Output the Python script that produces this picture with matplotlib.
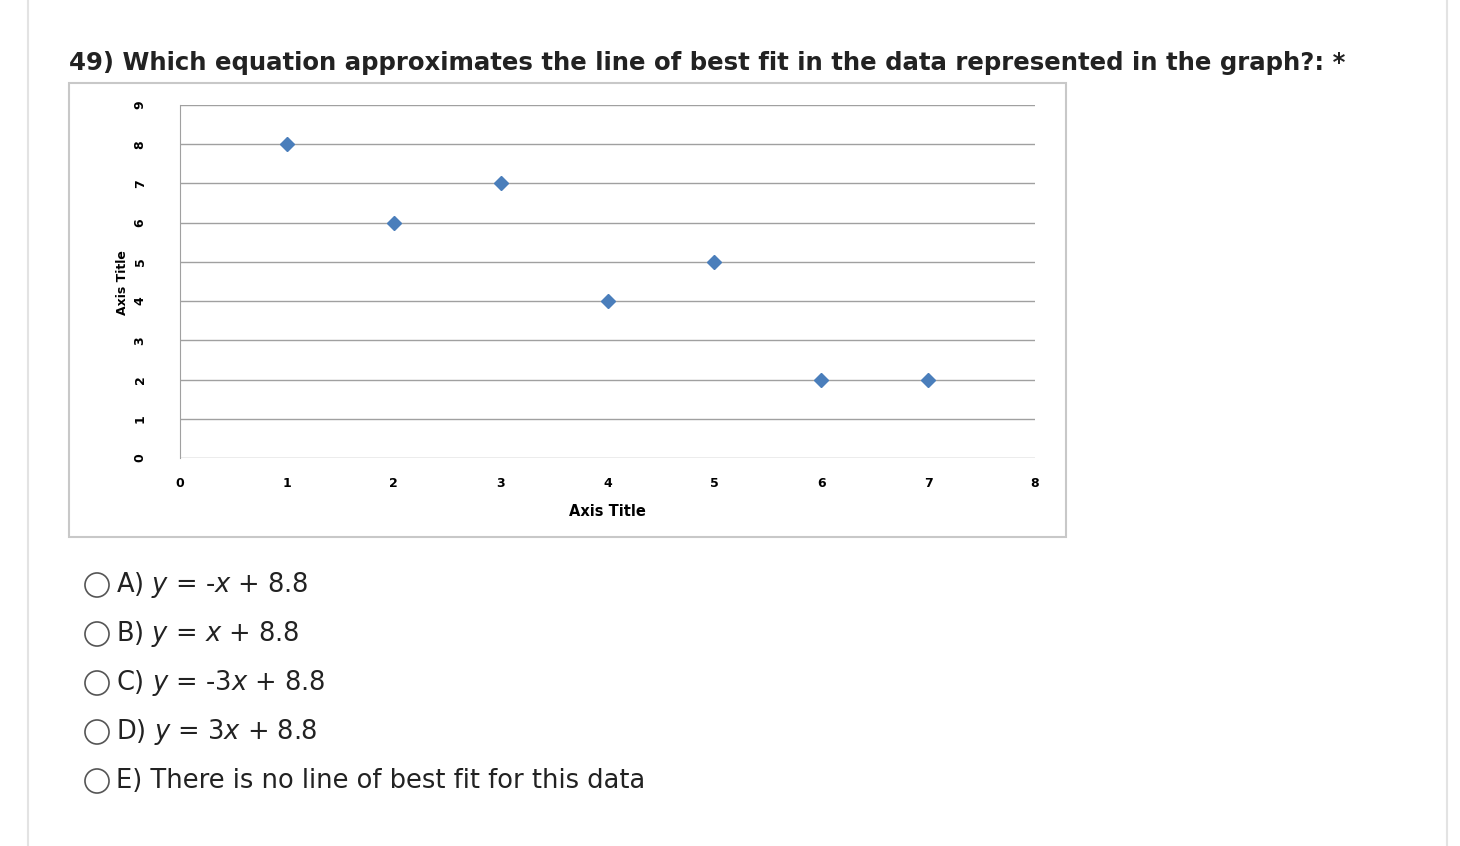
import matplotlib
matplotlib.use("Agg")
import matplotlib.pyplot as plt

x_vals = [1, 2, 3, 4, 5, 6, 7]
y_vals = [8, 6, 7, 4, 5, 2, 2]
x_ticks = [0, 1, 2, 3, 4, 5, 6, 7, 8]
y_ticks = [0, 1, 2, 3, 4, 5, 6, 7, 8, 9]
question = "49) Which equation approximates the line of best fit in the data represented in the graph?: *"
options = ["A) $y$ = -$x$ + 8.8", "B) $y$ = $x$ + 8.8", "C) $y$ = -3$x$ + 8.8",
           "D) $y$ = 3$x$ + 8.8", "E) There is no line of best fit for this data"]

W, H = 1460, 846
plt.rcParams['mathtext.fontset'] = 'dejavusans'
fig = plt.figure(figsize=(W/100, H/100), dpi=100)

def fx(p): return p / W
def fy(p): return 1 - p / H

fig.add_artist(plt.Line2D([fx(28), fx(28)], [0, 1], color='#e3e3e3', lw=1.5))
fig.add_artist(plt.Line2D([fx(1447), fx(1447)], [0, 1], color='#e3e3e3', lw=1.5))

fig.text(fx(69), fy(63), question, fontsize=17.6, fontweight='bold',
         family='DejaVu Sans', va='center', ha='left', color='#222222')

fig.add_artist(plt.Rectangle((fx(69), fy(537)), fx(1066 - 69), (537 - 83) / H,
                             fill=False, edgecolor='#c8c8c8', lw=1.5))

ax = fig.add_axes([fx(180), fy(458), fx(1035 - 180), (458 - 105) / H])
ax.set_xlim(0, 8)
ax.set_ylim(0, 9)
ax.set_yticks(y_ticks)
ax.set_xticks(x_ticks)
ax.grid(axis='y', color='#a0a0a0', lw=1)
ax.set_axisbelow(True)
for s in ['top', 'right', 'bottom']:
    ax.spines[s].set_visible(False)
ax.spines['left'].set_color('#a0a0a0')
ax.tick_params(length=0, labelsize=9, pad=24)
ax.tick_params(axis='x', pad=14)
for t in ax.get_yticklabels():
    t.set_rotation(90)
    t.set_fontweight('bold')
    t.set_va('center')
for t in ax.get_xticklabels():
    t.set_fontweight('bold')
ax.plot(x_vals, y_vals, linestyle='none', marker='D', markersize=7, color='#4a7ebb')
ax.set_xlabel("Axis Title", fontsize=10.5, fontweight='bold', labelpad=10)
fig.text(fx(122), fy(283), "Axis Title", rotation=90, fontsize=9, fontweight='bold',
         va='center', ha='center')

ys = [585, 634, 683, 732, 781]
for yy, opt in zip(ys, options):
    fig.text(fx(116), fy(yy), opt, fontsize=18.5, family='DejaVu Sans',
             va='center', ha='left', color='#222222')

cax = fig.add_axes([0, 0, 1, 1], facecolor='none')
cax.set_xlim(0, W); cax.set_ylim(H, 0); cax.axis('off')
cax.scatter([97] * len(ys), ys, s=300, facecolors='none', edgecolors='#555555', linewidths=1.2)

fig.savefig("out.png", dpi=100)
